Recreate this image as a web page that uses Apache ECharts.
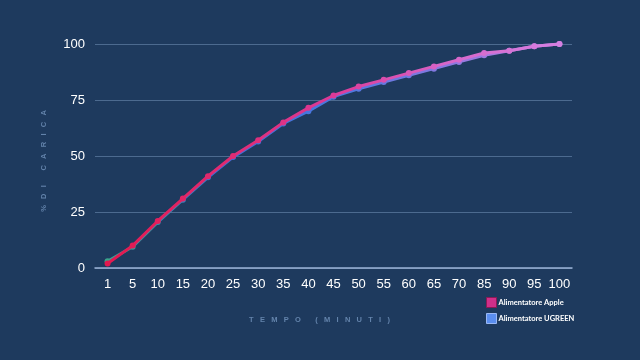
<!DOCTYPE html>
<html><head><meta charset="utf-8">
<script src="https://cdn.jsdelivr.net/npm/echarts@6/dist/echarts.min.js"></script>
<style>html,body{margin:0;padding:0;background:#1e3a5e;}#c{width:640px;height:360px;}</style>
</head><body><div id="c"></div>
<script>
const categories = ['1','5','10','15','20','25','30','35','40','45','50','55','60','65','70','85','90','95','100'];
const appleValues = [2,10,21,31,41,50,57,65,71.5,77,81,84,87,90,93,96,97,99,100];
const ugreenValues = [3,9.5,20.5,30.5,40.5,49.5,56.5,64.5,70,76.5,80,83,86,89,92,95,97,99,100];
const yTicks = [0,25,50,75,100];
const seriesNames = ['Alimentatore Apple','Alimentatore UGREEN'];
const xTitle = 'T   E   M   P   O       (   M   I   N   U   T   I   )';
const yTitle = '%   D   I       C   A   R   I   C   A';

const chart = echarts.init(document.getElementById('c'));
chart.setOption({
  backgroundColor: '#1e3a5e',
  animation: false,
  grid: {left: 95, right: 68, top: 44, bottom: 92},
  legend: {
    left: 481, top: 292, orient: 'vertical', itemGap: 5,
    itemWidth: 10, itemHeight: 10, icon: 'rect',
    textStyle: {color: '#ffffff', fontSize: 7.5, fontWeight: 'bold', fontFamily: 'Lato', padding: [0,0,0,-3]},
    data: [
      {name: seriesNames[0], itemStyle: {color: '#d02f8a', borderColor: '#8a1a55', borderWidth: 1}},
      {name: seriesNames[1], itemStyle: {color: '#5a8ef0', borderColor: '#9ab8f5', borderWidth: 1}}
    ]
  },
  visualMap: [
    {type: 'continuous', show: false, seriesIndex: 0, dimension: 0, min: 0, max: 18,
      inRange: {color: ['#e3184f', '#e02a70', '#dc3a98', '#d865c8', '#d580e2']}},
    {type: 'continuous', show: false, seriesIndex: 1, dimension: 0, min: 0, max: 18,
      inRange: {color: ['#3aa58a', '#3d6fd8', '#4a78e0', '#8a78e0', '#c87ee0']}}
  ],
  xAxis: {
    type: 'category', data: categories, boundaryGap: true,
    name: xTitle, nameLocation: 'middle', nameGap: 48,
    nameTextStyle: {color: '#6383ab', fontSize: 7.5, fontWeight: 'bold', fontFamily: 'Liberation Sans', padding: [0, 28, 0, 0]},
    axisLine: {lineStyle: {color: '#9ab3d6', width: 1.5}},
    axisTick: {show: false},
    axisLabel: {color: '#ffffff', fontSize: 13, margin: 10, fontFamily: 'Liberation Sans', interval: 0}
  },
  yAxis: {
    type: 'value', min: 0, max: 100, interval: 25,
    name: yTitle, nameLocation: 'middle', nameGap: 47, nameRotate: 90,
    nameTextStyle: {color: '#6383ab', fontSize: 7.5, fontWeight: 'bold', fontFamily: 'Liberation Sans', padding: [0, 10, 0, 0]},
    axisLine: {show: false}, axisTick: {show: false},
    splitLine: {lineStyle: {color: '#4c6a8f', width: 1.2}},
    axisLabel: {color: '#ffffff', fontSize: 13, margin: 10, fontFamily: 'Liberation Sans',
      formatter: v => yTicks.includes(v) ? String(v) : ''}
  },
  series: [
    {name: seriesNames[0], type: 'line', data: appleValues, z: 3,
      symbol: 'circle', symbolSize: 6, lineStyle: {width: 3},
      itemStyle: {color: '#d02f8a'}},
    {name: seriesNames[1], type: 'line', data: ugreenValues, z: 2,
      symbol: 'circle', symbolSize: 6, lineStyle: {width: 3},
      itemStyle: {color: '#5a8ef0'}}
  ]
});
</script></body></html>
